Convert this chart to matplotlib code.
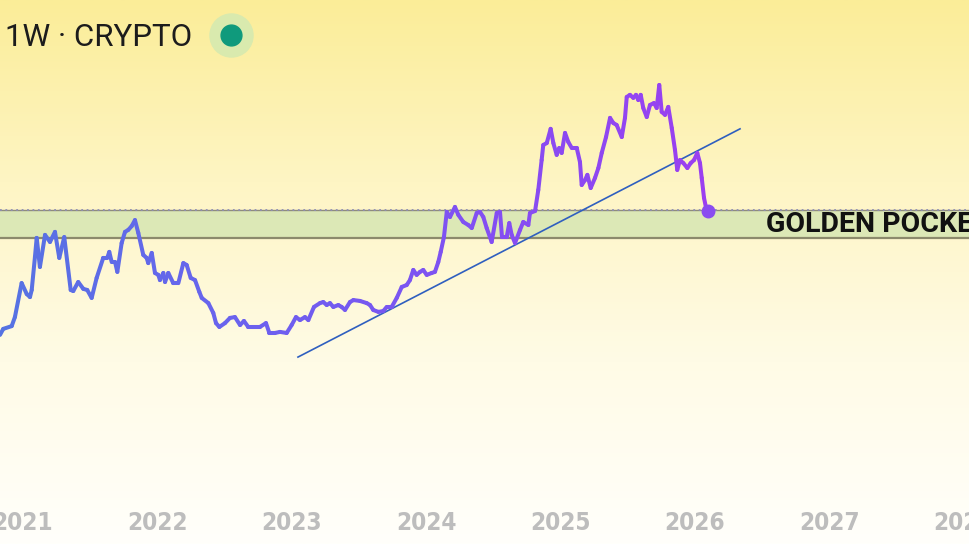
import numpy as np
import matplotlib
matplotlib.use("Agg")
import matplotlib.pyplot as plt
from matplotlib.collections import LineCollection
from matplotlib.colors import LinearSegmentedColormap

# weekly close (decimal year, price in k)
years = [
    2020.829, 2020.853, 2020.916, 2020.940, 2020.990, 2021.028, 2021.052, 2021.065,
    2021.089, 2021.102, 2021.126, 2021.164, 2021.201, 2021.238, 2021.270, 2021.307,
    2021.355, 2021.374, 2021.411, 2021.449, 2021.478, 2021.511, 2021.548, 2021.597,
    2021.627, 2021.642, 2021.660, 2021.685, 2021.702, 2021.734, 2021.759, 2021.783,
    2021.809, 2021.833, 2021.858, 2021.895, 2021.920, 2021.932, 2021.958, 2021.982,
    2022.007, 2022.019, 2022.044, 2022.057, 2022.081, 2022.118, 2022.156, 2022.193,
    2022.218, 2022.248, 2022.280, 2022.312, 2022.330, 2022.379, 2022.416, 2022.436,
    2022.461, 2022.503, 2022.540, 2022.577, 2022.615, 2022.644, 2022.676, 2022.714,
    2022.763, 2022.808, 2022.833, 2022.875, 2022.912, 2022.962, 2022.999, 2023.031,
    2023.061, 2023.098, 2023.123, 2023.165, 2023.210, 2023.234, 2023.260, 2023.284,
    2023.309, 2023.346, 2023.371, 2023.396, 2023.433, 2023.458, 2023.507, 2023.557,
    2023.582, 2023.606, 2023.644, 2023.681, 2023.706, 2023.743, 2023.781, 2023.818,
    2023.855, 2023.879, 2023.904, 2023.929, 2023.954, 2023.978, 2024.004, 2024.041,
    2024.065, 2024.090, 2024.108, 2024.132, 2024.153, 2024.177, 2024.214, 2024.239,
    2024.276, 2024.313, 2024.339, 2024.376, 2024.400, 2024.425, 2024.450, 2024.487,
    2024.525, 2024.549, 2024.564, 2024.599, 2024.618, 2024.636, 2024.661, 2024.698,
    2024.722, 2024.760, 2024.772, 2024.810, 2024.834, 2024.859, 2024.871, 2024.897,
    2024.926, 2024.946, 2024.971, 2024.990, 2025.008, 2025.033, 2025.057, 2025.083,
    2025.120, 2025.144, 2025.157, 2025.182, 2025.199, 2025.224, 2025.256, 2025.281,
    2025.306, 2025.338, 2025.368, 2025.392, 2025.417, 2025.455, 2025.479, 2025.492,
    2025.516, 2025.541, 2025.561, 2025.578, 2025.596, 2025.615, 2025.641, 2025.665,
    2025.695, 2025.715, 2025.734, 2025.752, 2025.777, 2025.801, 2025.827, 2025.851,
    2025.868, 2025.888, 2025.913, 2025.943, 2025.968, 2025.993, 2026.017, 2026.037,
    2026.050, 2026.067, 2026.087, 2026.097,
]
prices = [
    15.1, 17.9, 19.2, 23.4, 39.2, 34.1, 32.7, 36.0,
    51.3, 60.2, 46.7, 61.6, 58.3, 63.0, 50.9, 60.6,
    36.0, 35.5, 39.7, 36.5, 36.0, 32.3, 41.6, 50.9,
    50.9, 53.7, 49.0, 49.0, 44.4, 57.8, 63.0, 63.9,
    65.7, 68.5, 62.5, 52.3, 50.9, 48.5, 53.2, 43.9,
    43.0, 40.6, 43.9, 39.7, 43.9, 39.2, 39.2, 48.5,
    47.6, 41.6, 40.6, 35.1, 32.3, 29.9, 25.3, 20.6,
    18.8, 20.6, 23.0, 23.4, 19.7, 21.6, 18.8, 18.8,
    18.8, 20.6, 16.0, 16.0, 16.5, 16.0, 19.7, 23.4,
    22.0, 23.4, 22.0, 28.1, 29.9, 30.4, 29.0, 29.9,
    28.1, 29.0, 28.1, 26.7, 30.4, 31.3, 30.9, 29.9,
    29.0, 26.7, 25.8, 26.2, 28.1, 28.1, 32.3, 37.4,
    38.3, 40.6, 45.3, 43.0, 44.4, 45.3, 43.0, 43.9,
    44.4, 49.0, 53.7, 60.6, 72.3, 69.9, 74.6, 70.9,
    67.6, 66.2, 64.8, 71.8, 72.3, 69.9, 64.8, 58.3,
    71.8, 72.3, 60.6, 60.6, 67.1, 61.6, 57.8, 63.9,
    67.6, 66.2, 71.8, 72.7, 82.5, 96.4, 103.4, 104.3,
    110.9, 104.3, 98.8, 102.0, 99.7, 109.0, 104.8, 102.0,
    102.0, 95.5, 84.8, 87.1, 89.5, 83.4, 88.1, 92.7,
    99.7, 107.1, 116.0, 113.6, 112.7, 107.1, 116.0, 125.7,
    126.7, 125.3, 126.7, 124.3, 126.7, 120.6, 116.4, 122.0,
    122.9, 120.6, 131.3, 118.8, 117.4, 121.1, 111.3, 101.1,
    91.8, 96.4, 95.0, 92.7, 95.0, 96.4, 99.7, 95.0,
    88.1, 78.8, 72.7, 72.7,
]

# golden pocket zone and trendline anchors
pocket_top = 73.2
pocket_bottom = 60.2
trend_years = [2023.046, 2026.335]
trend_prices = [4.8, 110.9]

tick_years = [2021, 2022, 2023, 2024, 2025, 2026, 2027, 2028]

x_min, x_max = 2020.829, 2028.046
y_min, y_max = -82.1, 170.8

fig = plt.figure(figsize=(9.7, 5.44), dpi=100)
ax = fig.add_axes([0, 0, 1, 1])
ax.set_xlim(x_min, x_max)
ax.set_ylim(y_min, y_max)

# background gradient (yellow at top fading to white)
bg = LinearSegmentedColormap.from_list("bg", ["#fbed98", "#fef5c4", "#fffbe6", "#fffffb"])
grad = np.linspace(0, 1, 256).reshape(-1, 1)
ax.imshow(grad, cmap=bg, extent=[x_min, x_max, y_min, y_max], origin="upper",
          aspect="auto", zorder=0)
ax.set_xlim(x_min, x_max)
ax.set_ylim(y_min, y_max)

# golden pocket band
ax.axhspan(pocket_bottom, pocket_top, color="#dce8b6", zorder=1, lw=0)
ax.axhline(pocket_top, color="#8e8c7c", lw=1.0, zorder=2)
ax.axhline(pocket_top, color="#8f8fb4", lw=1.3, ls=(0, (1, 2)), zorder=2)
ax.axhline(pocket_bottom, color="#8c8a6c", lw=1.6, zorder=2)
ax.text(2026.528, 63.0, "GOLDEN POCKET", fontsize=20.5, fontweight="bold",
        family=["Roboto", "DejaVu Sans"], color="#111111", va="baseline", zorder=5)

# trendline
ax.plot(trend_years, trend_prices, color="#2f5fbf", lw=1.2, zorder=3)

# price line with blue -> purple gradient
x = np.array(years)
y = np.array(prices)
pts = np.column_stack([x, y]).reshape(-1, 1, 2)
segs = np.concatenate([pts[:-1], pts[1:]], axis=1)
line_cmap = LinearSegmentedColormap.from_list("ln", ["#5673e2", "#6a62ee", "#8150f2", "#9b3ff0"])
lc = LineCollection(segs, cmap=line_cmap, linewidths=2.9, capstyle="round", joinstyle="round", zorder=4)
lc.set_array((x[:-1] - x[0]) / (x[-1] - x[0]))
ax.add_collection(lc)
ax.plot(x[-1], y[-1], "o", ms=9, color="#8a4cf0", zorder=5)

# x ticks drawn inside the plot
ax.set_xticks(tick_years)
ax.set_xticklabels([str(t) for t in tick_years])
ax.tick_params(axis="x", length=0, pad=-24, labelsize=17.5, labelcolor="#bdbdbd")
for lab in ax.get_xticklabels():
    lab.set_family("DejaVu Sans")
    lab.set_fontstretch("condensed")
    lab.set_fontweight("bold")
ax.set_yticks([])
for s in ax.spines.values():
    s.set_visible(False)

# header
fig.text(5 / 970, 1 - 46 / 544, "1W · CRYPTO", fontsize=22.5, family=["Roboto", "DejaVu Sans"],
         color="#1c1c1c", va="baseline", ha="left")
ax.plot(231 / 970, 1 - 35 / 544, "o", ms=31, color="#d9eaae", transform=ax.transAxes,
        clip_on=False, zorder=6)
ax.plot(231 / 970, 1 - 35 / 544, "o", ms=15, color="#0f9a7c", transform=ax.transAxes,
        clip_on=False, zorder=7)

fig.savefig("out.png", dpi=100)
